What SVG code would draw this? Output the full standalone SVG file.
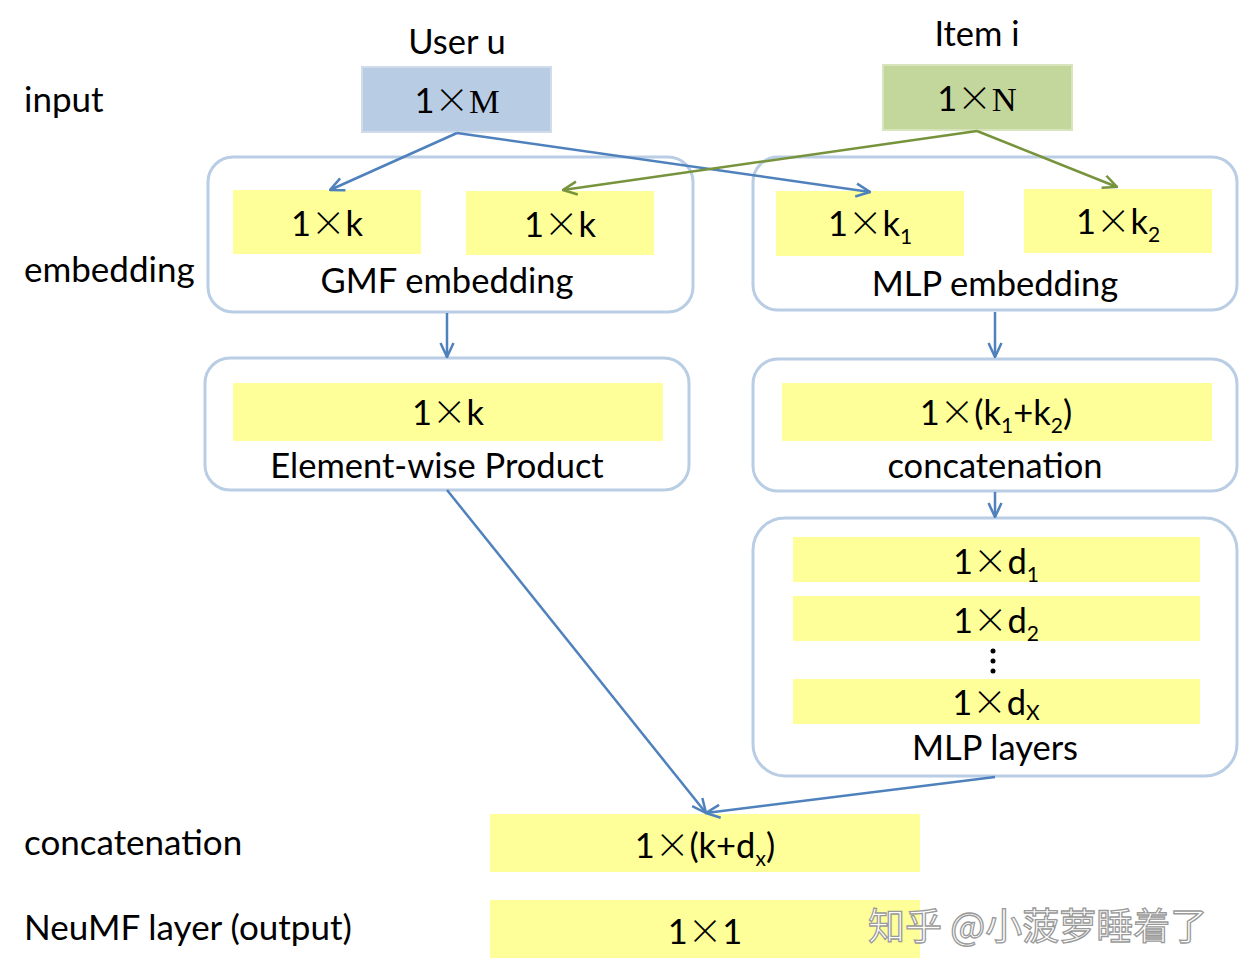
<svg xmlns="http://www.w3.org/2000/svg" width="1239" height="976" viewBox="0 0 1239 976">
<style>
text{font-family:Lato,"Noto Sans","Noto Sans CJK SC",sans-serif;fill:#000}
.lbl{font-size:35px}
.t{font-size:34.5px;text-anchor:middle}
.x{font-family:"Noto Sans CJK SC",sans-serif;font-weight:300}
.s{font-family:"Liberation Serif",serif}
.sub{font-size:21px}
.cont{fill:#fff;stroke:#b9cde5;stroke-width:3}
.y{fill:#ffff99}
.b{stroke:#4f81bd;stroke-width:2.5;fill:none}
.g{stroke:#77933c;stroke-width:2.5;fill:none}
.wm{font-family:"Noto Sans CJK SC",sans-serif;font-size:37px;fill:#fff;stroke:#9a9a9a;stroke-width:1.3}
</style>
<defs>
<marker id="ab" viewBox="0 0 16 16" refX="15" refY="8" markerWidth="16" markerHeight="16" markerUnits="userSpaceOnUse" orient="auto"><path d="M1,1.5 L15,8 L1,14.5" fill="none" stroke="#4f81bd" stroke-width="2.5"/></marker>
<marker id="ag" viewBox="0 0 16 16" refX="15" refY="8" markerWidth="16" markerHeight="16" markerUnits="userSpaceOnUse" orient="auto"><path d="M1,1.5 L15,8 L1,14.5" fill="none" stroke="#77933c" stroke-width="2.5"/></marker>
</defs>
<rect width="1239" height="976" fill="#fff"/>

<g id="side-labels">
<text class="lbl" x="24" y="112">input</text>
<text class="lbl" x="24" y="282">embedding</text>
<text class="lbl" x="24" y="855">concatenation</text>
<text class="lbl" x="24" y="940">NeuMF layer (output)</text>
</g>

<g id="user">
<text class="t" x="457" y="54">User u</text>
<rect x="362" y="67" width="189" height="65" fill="#b8cce4" stroke="#d0dcec" stroke-width="2"/>
<text class="t" x="457" y="113">1<tspan class="x">×</tspan><tspan class="s">M</tspan></text>
</g>

<g id="item">
<text class="t" x="977" y="46">Item i</text>
<rect x="883" y="65" width="189" height="65" fill="#c3d69b" stroke="#d7e4bc" stroke-width="2"/>
<text class="t" x="977" y="111">1<tspan class="x">×</tspan><tspan class="s">N</tspan></text>
</g>

<g id="gmf-embedding">
<rect class="cont" x="208" y="157" width="485" height="155" rx="25"/>
<rect class="y" x="233" y="190" width="188" height="64"/>
<text class="t" x="327" y="236">1<tspan class="x">×</tspan>k</text>
<rect class="y" x="466" y="191" width="188" height="64"/>
<text class="t" x="560" y="237">1<tspan class="x">×</tspan>k</text>
<text class="t" x="447" y="293">GMF embedding</text>
</g>

<g id="mlp-embedding">
<rect class="cont" x="753" y="157" width="484" height="153" rx="25"/>
<rect class="y" x="776" y="191" width="188" height="65"/>
<text class="t" x="870" y="236">1<tspan class="x">×</tspan>k<tspan class="sub" dy="8">1</tspan></text>
<rect class="y" x="1024" y="189" width="188" height="64"/>
<text class="t" x="1118" y="234">1<tspan class="x">×</tspan>k<tspan class="sub" dy="8">2</tspan></text>
<text class="t" x="995" y="296">MLP embedding</text>
</g>

<g id="element-wise">
<rect class="cont" x="205" y="358" width="484" height="132" rx="25"/>
<rect class="y" x="233" y="383" width="430" height="58"/>
<text class="t" x="448" y="425">1<tspan class="x">×</tspan>k</text>
<text class="t" x="437" y="478">Element-wise Product</text>
</g>

<g id="concat-mlp">
<rect class="cont" x="753" y="359" width="484" height="132" rx="25"/>
<rect class="y" x="782" y="383" width="430" height="58"/>
<text class="t" x="996" y="425">1<tspan class="x">×</tspan>(k<tspan class="sub" dy="8">1</tspan><tspan dy="-8">+k</tspan><tspan class="sub" dy="8">2</tspan><tspan dy="-8">)</tspan></text>
<text class="t" x="995" y="478">concatenation</text>
</g>

<g id="mlp-layers">
<rect class="cont" x="753" y="518" width="484" height="258" rx="32"/>
<rect class="y" x="793" y="537" width="407" height="45"/>
<text class="t" x="996" y="574">1<tspan class="x">×</tspan>d<tspan class="sub" dy="8">1</tspan></text>
<rect class="y" x="793" y="596" width="407" height="45"/>
<text class="t" x="996" y="633">1<tspan class="x">×</tspan>d<tspan class="sub" dy="8">2</tspan></text>
<circle cx="993" cy="651" r="2.5"/>
<circle cx="993" cy="661" r="2.5"/>
<circle cx="993" cy="671" r="2.5"/>
<rect class="y" x="793" y="679" width="407" height="45"/>
<text class="t" x="996" y="715">1<tspan class="x">×</tspan>d<tspan class="sub" dy="5" font-size="19">X</tspan></text>
<text class="t" x="995" y="760">MLP layers</text>
</g>

<g id="concat-out">
<rect class="y" x="490" y="814" width="430" height="58"/>
<text class="t" x="705" y="858">1<tspan class="x">×</tspan>(k+d<tspan class="sub" dy="8">x</tspan><tspan dy="-8">)</tspan></text>
</g>

<g id="neumf-out">
<rect class="y" x="490" y="900" width="430" height="58"/>
<text class="t" x="705" y="944">1<tspan class="x">×</tspan>1</text>
</g>

<g id="connectors">
<line class="b" x1="457" y1="133" x2="330" y2="190" marker-end="url(#ab)"/>
<line class="b" x1="457" y1="133" x2="870" y2="192" marker-end="url(#ab)"/>
<line class="g" x1="977" y1="131" x2="563" y2="190" marker-end="url(#ag)"/>
<line class="g" x1="977" y1="131" x2="1117" y2="187" marker-end="url(#ag)"/>
<line class="b" x1="447" y1="313" x2="447" y2="357" marker-end="url(#ab)"/>
<line class="b" x1="995" y1="312" x2="995" y2="357" marker-end="url(#ab)"/>
<line class="b" x1="995" y1="492" x2="995" y2="517" marker-end="url(#ab)"/>
<line class="b" x1="447" y1="490" x2="706" y2="813" marker-end="url(#ab)"/>
<line class="b" x1="995" y1="777" x2="706" y2="813" marker-end="url(#ab)"/>
</g>

<text class="wm" x="868" y="940">知乎 @小菠萝睡着了</text>
</svg>
